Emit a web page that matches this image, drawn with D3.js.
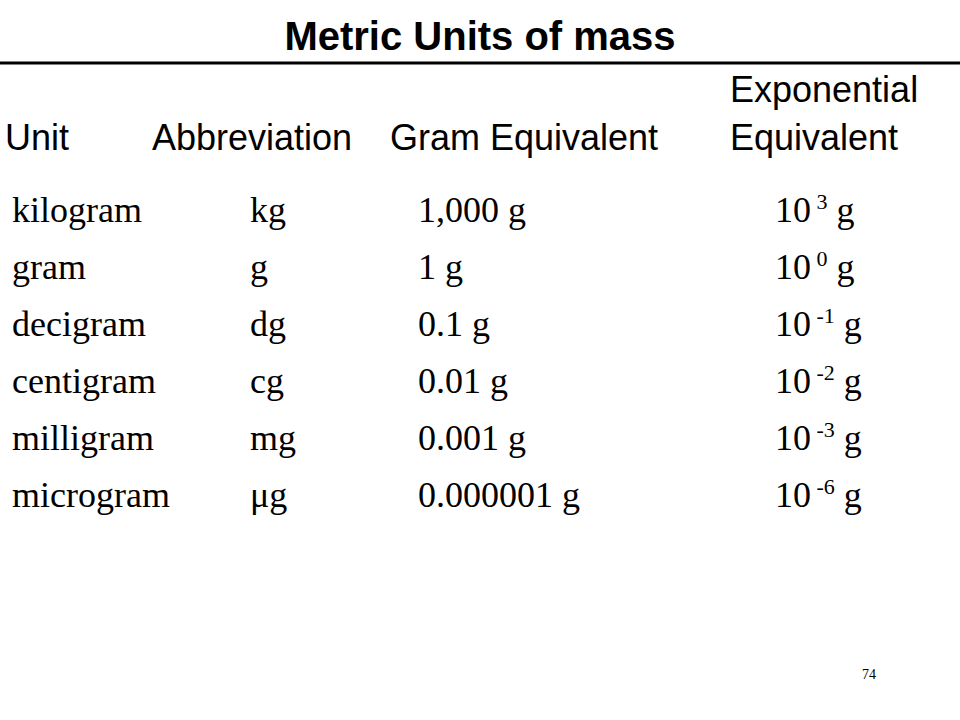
<!DOCTYPE html>
<html><head><meta charset="utf-8">
<script src="https://cdn.jsdelivr.net/npm/d3@7"></script>
<style>body{margin:0;background:#fff}</style></head>
<body><svg id="c" width="960" height="720"></svg>
<script>
const units = ["kilogram","gram","decigram","centigram","milligram","microgram"];
const abbreviations = ["kg","g","dg","cg","mg","μg"];
const gramEquivalents = ["1,000 g","1 g","0.1 g","0.01 g","0.001 g","0.000001 g"];
const exponents = ["3","0","-1","-2","-3","-6"];
const headers = ["Unit","Abbreviation","Gram Equivalent","Equivalent"];

const svg = d3.select("#c");
svg.append("text").attr("x",480).attr("y",50).attr("text-anchor","middle")
  .attr("font-family","Liberation Sans, Arial").attr("font-weight","bold").attr("font-size",40).text("Metric Units of mass");
svg.append("line").attr("x1",0).attr("x2",960).attr("y1",63).attr("y2",63).attr("stroke","#000").attr("stroke-width",3);

const hx = [5,152,390,730];
const hfam = "Liberation Sans, Arial";
svg.append("text").attr("x",730).attr("y",102).attr("font-family",hfam).attr("font-size",36).text("Exponential");
headers.forEach((h,i)=>svg.append("text").attr("x",hx[i]).attr("y",150).attr("font-family",hfam).attr("font-size",36).text(h));

const y = d3.scalePoint().domain(units).range([222,507]);
const cols = [12,250,418,775];
const g = svg.append("g").attr("font-family","Liberation Serif, Times New Roman").attr("font-size",36);
units.forEach((u,i)=>{
  const yy = y(u);
  g.append("text").attr("x",cols[0]).attr("y",yy).text(u);
  g.append("text").attr("x",cols[1]).attr("y",yy).text(abbreviations[i]);
  g.append("text").attr("x",cols[2]).attr("y",yy).text(gramEquivalents[i]);
  const t = g.append("text").attr("x",cols[3]).attr("y",yy);
  t.append("tspan").text("10");
  t.append("tspan").attr("font-size",22).attr("dy",-13).text(" "+exponents[i]);
  t.append("tspan").attr("dy",13).text(" g");
});
svg.append("text").attr("x",862).attr("y",679).attr("font-family","Liberation Serif").attr("font-size",14).text("74");
</script></body></html>
